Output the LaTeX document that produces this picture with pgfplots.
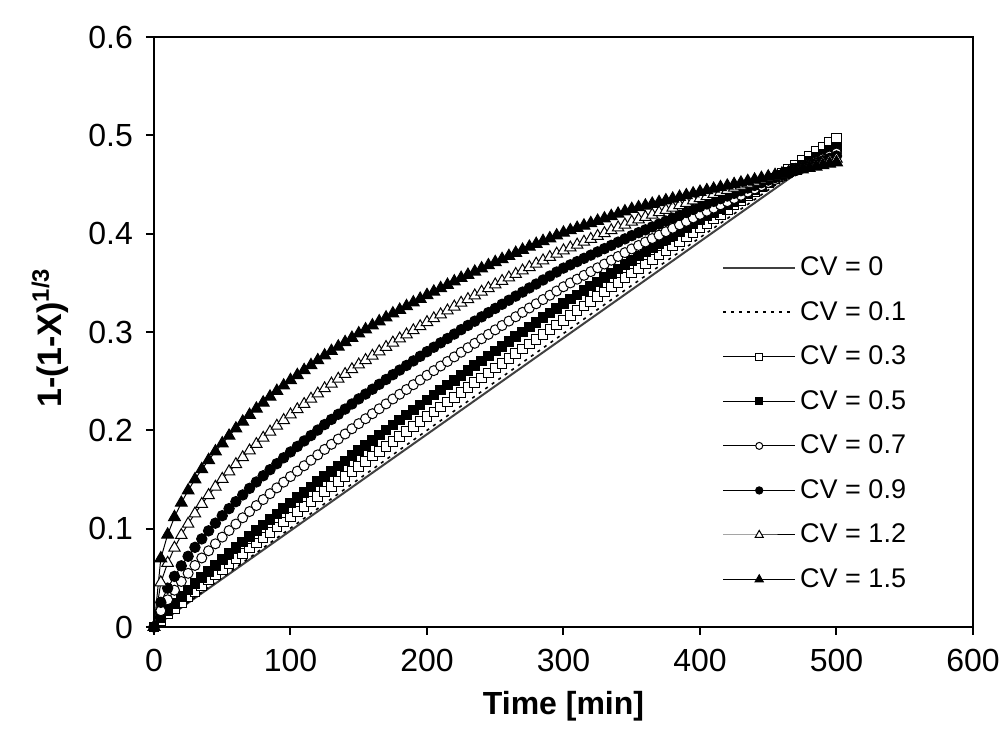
\documentclass[border=0pt]{standalone}
\usepackage{pgfplots}
\pgfplotsset{compat=1.18}
\usepackage{pgfplotstable}
\usepackage{fontspec}
\setmainfont{Liberation Sans}

% Shrinking-core conversion function 1-(1-X)^{1/3} versus time
% for particle-size distributions of increasing coefficient of variation
\pgfplotstableread{
t c03 c05 c07 c09 c12 c15
0 0 0 0 0 0 0
5 0.0069 0.0092 0.0165 0.0251 0.0453 0.0698
10 0.0131 0.0169 0.0277 0.0395 0.0651 0.0939
15 0.0191 0.0240 0.0374 0.0515 0.0804 0.1117
20 0.0250 0.0309 0.0463 0.0622 0.0934 0.1263
25 0.0307 0.0375 0.0546 0.0719 0.1049 0.1388
30 0.0364 0.0440 0.0626 0.0810 0.1153 0.1501
35 0.0421 0.0504 0.0702 0.0896 0.1250 0.1604
40 0.0476 0.0566 0.0775 0.0978 0.1340 0.1697
45 0.0532 0.0627 0.0846 0.1056 0.1425 0.1785
50 0.0587 0.0688 0.0914 0.1132 0.1505 0.1867
55 0.0641 0.0747 0.0981 0.1204 0.1581 0.1944
60 0.0696 0.0806 0.1047 0.1275 0.1655 0.2018
65 0.0749 0.0865 0.1111 0.1343 0.1725 0.2088
70 0.0803 0.0923 0.1174 0.1410 0.1794 0.2156
75 0.0856 0.0980 0.1235 0.1475 0.1859 0.2220
80 0.0910 0.1037 0.1296 0.1538 0.1923 0.2282
85 0.0962 0.1093 0.1356 0.1600 0.1985 0.2342
90 0.1015 0.1149 0.1415 0.1661 0.2045 0.2400
95 0.1068 0.1205 0.1473 0.1721 0.2103 0.2455
100 0.1120 0.1260 0.1530 0.1780 0.2160 0.2510
105 0.1172 0.1314 0.1585 0.1836 0.2213 0.2561
110 0.1224 0.1368 0.1640 0.1892 0.2266 0.2612
115 0.1275 0.1423 0.1696 0.1947 0.2320 0.2662
120 0.1327 0.1477 0.1751 0.2003 0.2373 0.2712
125 0.1379 0.1531 0.1806 0.2059 0.2426 0.2761
130 0.1430 0.1584 0.1858 0.2111 0.2474 0.2806
135 0.1481 0.1637 0.1911 0.2163 0.2523 0.2851
140 0.1533 0.1690 0.1963 0.2216 0.2571 0.2896
145 0.1584 0.1743 0.2016 0.2268 0.2620 0.2940
150 0.1635 0.1796 0.2068 0.2320 0.2668 0.2985
155 0.1686 0.1848 0.2118 0.2369 0.2713 0.3026
160 0.1737 0.1899 0.2169 0.2418 0.2757 0.3066
165 0.1787 0.1951 0.2219 0.2468 0.2802 0.3107
170 0.1838 0.2002 0.2269 0.2517 0.2846 0.3147
175 0.1888 0.2054 0.2319 0.2566 0.2891 0.3188
180 0.1938 0.2105 0.2367 0.2613 0.2933 0.3225
185 0.1988 0.2156 0.2415 0.2660 0.2974 0.3262
190 0.2038 0.2207 0.2464 0.2706 0.3016 0.3300
195 0.2088 0.2258 0.2512 0.2753 0.3057 0.3337
200 0.2138 0.2309 0.2560 0.2800 0.3099 0.3375
205 0.2188 0.2359 0.2607 0.2845 0.3138 0.3410
210 0.2237 0.2409 0.2654 0.2890 0.3178 0.3445
215 0.2287 0.2459 0.2700 0.2934 0.3217 0.3479
220 0.2336 0.2509 0.2747 0.2979 0.3257 0.3514
225 0.2386 0.2559 0.2794 0.3024 0.3296 0.3549
230 0.2435 0.2608 0.2840 0.3067 0.3333 0.3581
235 0.2485 0.2658 0.2885 0.3110 0.3370 0.3613
240 0.2534 0.2707 0.2931 0.3154 0.3408 0.3646
245 0.2584 0.2757 0.2976 0.3197 0.3445 0.3678
250 0.2633 0.2806 0.3022 0.3240 0.3482 0.3710
255 0.2682 0.2855 0.3066 0.3282 0.3517 0.3741
260 0.2731 0.2903 0.3111 0.3323 0.3553 0.3772
265 0.2779 0.2952 0.3155 0.3365 0.3588 0.3804
270 0.2828 0.3000 0.3200 0.3406 0.3624 0.3835
275 0.2877 0.3049 0.3244 0.3448 0.3659 0.3866
280 0.2926 0.3097 0.3287 0.3488 0.3693 0.3895
285 0.2974 0.3145 0.3330 0.3529 0.3727 0.3924
290 0.3023 0.3194 0.3374 0.3569 0.3761 0.3952
295 0.3071 0.3242 0.3417 0.3610 0.3795 0.3981
300 0.3120 0.3290 0.3460 0.3650 0.3829 0.4010
305 0.3168 0.3334 0.3499 0.3683 0.3858 0.4034
310 0.3216 0.3378 0.3537 0.3716 0.3887 0.4058
315 0.3264 0.3422 0.3576 0.3749 0.3916 0.4082
320 0.3312 0.3466 0.3614 0.3782 0.3945 0.4106
325 0.3360 0.3510 0.3653 0.3815 0.3975 0.4130
330 0.3408 0.3554 0.3691 0.3848 0.4004 0.4154
335 0.3456 0.3598 0.3730 0.3881 0.4033 0.4178
340 0.3504 0.3642 0.3768 0.3914 0.4062 0.4202
345 0.3552 0.3686 0.3807 0.3947 0.4091 0.4226
350 0.3600 0.3730 0.3845 0.3980 0.4120 0.4250
355 0.3646 0.3771 0.3880 0.4010 0.4144 0.4268
360 0.3692 0.3812 0.3915 0.4039 0.4168 0.4285
365 0.3738 0.3853 0.3950 0.4069 0.4192 0.4303
370 0.3784 0.3894 0.3985 0.4098 0.4216 0.4320
375 0.3830 0.3935 0.4020 0.4128 0.4240 0.4338
380 0.3876 0.3976 0.4055 0.4157 0.4264 0.4355
385 0.3922 0.4017 0.4090 0.4187 0.4288 0.4373
390 0.3968 0.4058 0.4125 0.4216 0.4312 0.4390
395 0.4014 0.4099 0.4160 0.4246 0.4336 0.4408
400 0.4060 0.4140 0.4195 0.4275 0.4360 0.4425
405 0.4106 0.4178 0.4228 0.4302 0.4381 0.4441
410 0.4152 0.4216 0.4260 0.4329 0.4402 0.4456
415 0.4198 0.4254 0.4293 0.4356 0.4423 0.4472
420 0.4244 0.4292 0.4325 0.4383 0.4444 0.4487
425 0.4290 0.4330 0.4358 0.4410 0.4465 0.4503
430 0.4336 0.4368 0.4390 0.4437 0.4486 0.4518
435 0.4382 0.4406 0.4423 0.4464 0.4507 0.4534
440 0.4428 0.4444 0.4455 0.4491 0.4528 0.4549
445 0.4474 0.4482 0.4488 0.4518 0.4549 0.4565
450 0.4520 0.4520 0.4520 0.4545 0.4570 0.4580
455 0.4565 0.4556 0.4550 0.4570 0.4589 0.4595
460 0.4610 0.4592 0.4580 0.4594 0.4608 0.4609
465 0.4655 0.4628 0.4610 0.4619 0.4627 0.4624
470 0.4700 0.4664 0.4640 0.4643 0.4646 0.4638
475 0.4745 0.4700 0.4670 0.4668 0.4665 0.4653
480 0.4790 0.4736 0.4700 0.4692 0.4684 0.4667
485 0.4835 0.4772 0.4730 0.4717 0.4703 0.4682
490 0.4880 0.4808 0.4760 0.4741 0.4722 0.4696
495 0.4925 0.4844 0.4790 0.4766 0.4741 0.4711
500 0.4970 0.4880 0.4820 0.4790 0.4760 0.4725
}\kinetics

\begin{document}
\begin{tikzpicture}
\path[use as bounding box] (-77pt,-56pt) rectangle (424.5pt,313.5pt);
\begin{axis}[
  at={(0pt,0pt)}, anchor=south west,
  scale only axis, width=409.5pt, height=295pt,
  xmin=0, xmax=600, ymin=0, ymax=0.6,
  xtick={0,100,200,300,400,500,600},
  ytick={0,0.1,0.2,0.3,0.4,0.5,0.6},
  yticklabels={0,0.1,0.2,0.3,0.4,0.5,0.6},
  tick align=outside, tick pos=left,
  major tick length=4pt,
  axis line style={line width=1pt},
  every tick/.style={line width=1pt, black},
  /pgf/number format/assume math mode=true,
  tick label style={font=\fontsize{16}{19}\selectfont},
  yticklabel style={xshift=-3pt},
  xticklabel style={yshift=-3.5pt},
  xlabel={\bfseries Time [min]},
  xlabel style={at={(axis description cs:0.5,-0.134)}, anchor=center,
    font=\fontsize{16}{19}\selectfont},
  ylabel={\bfseries 1-(1-X)\textsuperscript{1/3}},
  ylabel style={at={(axis description cs:-0.127,0.49)}, anchor=center,
    font=\fontsize{17}{20}\selectfont},
  legend style={draw=none, fill=none, inner sep=0pt,
    at={(axis cs:416,0.381)}, anchor=north west,
    font=\fontsize{13.5}{16}\selectfont, row sep=7.35pt,
    cells={anchor=west}},
  legend image code/.code={%
    \draw[mark repeat=2, mark phase=2, every mark/.append style={scale=0.7}]
      plot coordinates {(0pt,0pt) (18pt,0pt) (36pt,0pt)};},
  every axis plot/.append style={line width=0.5pt, black},
]
\addplot[black!75, line width=1pt] coordinates {(0,0) (500,0.49)};
\addlegendentry{CV = 0}
\addplot[black, line width=0.8pt, dash pattern=on 1.5pt off 2.5pt] coordinates {
 (0,0) (50,0.0504) (100,0.1005) (150,0.1504) (200,0.2000) (250,0.2494)
 (300,0.2985) (350,0.3474) (400,0.3960) (450,0.4444) (500,0.4925)};
\addlegendentry{CV = 0.1}
\addplot[mark=square*, mark size=2.4pt, mark options={solid, fill=white, line width=0.5pt}] table[x=t, y=c03] {\kinetics};
\addlegendentry{CV = 0.3}
\addplot[mark=square*, mark size=2.4pt, mark options={solid, fill=black}] table[x=t, y=c05] {\kinetics};
\addlegendentry{CV = 0.5}
\addplot[mark=*, mark size=2.5pt, mark options={solid, fill=white, line width=0.5pt}] table[x=t, y=c07] {\kinetics};
\addlegendentry{CV = 0.7}
\addplot[mark=*, mark size=2.6pt, mark options={solid, fill=black}] table[x=t, y=c09] {\kinetics};
\addlegendentry{CV = 0.9}
\addplot[mark=triangle*, mark size=3.3pt, mark options={solid, fill=white, line width=0.5pt}] table[x=t, y=c12] {\kinetics};
\addlegendentry{CV = 1.2}
\addplot[mark=triangle*, mark size=3.4pt, mark options={solid, fill=black}] table[x=t, y=c15] {\kinetics};
\addlegendentry{CV = 1.5}
\end{axis}
\end{tikzpicture}
\end{document}
